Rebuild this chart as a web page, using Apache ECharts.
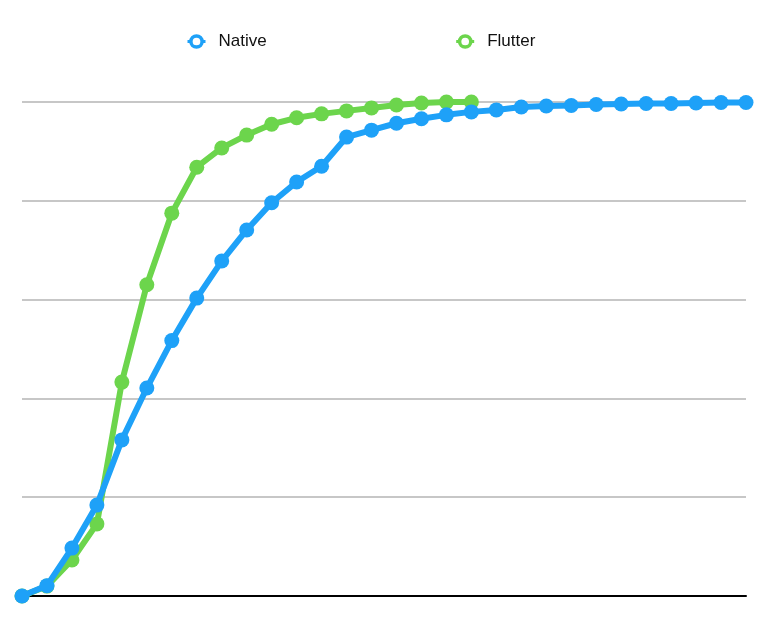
<!DOCTYPE html>
<html lang="en">
<head>
    <meta charset="UTF-8">
    <title>Native vs Flutter</title>
    <script src="https://cdn.jsdelivr.net/npm/echarts@6/dist/echarts.min.js"></script>
    <style>
        html, body { margin: 0; padding: 0; background: #fff; }
    </style>
</head>
<body>
    <div id="chart" style="width: 780px; height: 622px;"></div>
    <script type="text/javascript">
    // x positions are just sample indexes (no labels shown)
    const steps = Array.from({ length: 30 }, (_, i) => String(i + 1));

    const nativeValues = [0, 2.1, 9.7, 18.4, 31.6, 42.1, 51.7, 60.3, 67.8, 74.1,
        79.6, 83.8, 87.0, 92.9, 94.3, 95.7, 96.6, 97.4, 98.0, 98.4,
        99.0, 99.2, 99.3, 99.5, 99.6, 99.7, 99.7, 99.8, 99.9, 99.9];

    const flutterValues = [0, 2.0, 7.3, 14.6, 43.3, 63.0, 77.5, 86.8, 90.7, 93.3,
        95.5, 96.8, 97.6, 98.2, 98.8, 99.4, 99.8, 100, 100];

    const nativeColor = '#1ea1f8';
    const flutterColor = '#6cd54c';

    var chart = echarts.init(document.getElementById('chart'));

    // ring-shaped legend icon, white inside
    function legendItem(name, color) {
        return {
            name: name,
            itemStyle: { color: '#fff', borderColor: color, borderWidth: 3.5 },
            lineStyle: { color: color, width: 3 }
        };
    }

    var option = {
        animation: false,
        legend: {
            left: 186,
            top: 33,
            padding: 0,
            itemWidth: 18,
            itemHeight: 14,
            itemGap: 188,
            textStyle: {
                fontFamily: 'Liberation Sans',
                fontSize: 17,
                color: '#111',
                padding: [0, 0, 0, 8]
            },
            data: [legendItem('Native', nativeColor), legendItem('Flutter', flutterColor)]
        },
        grid: { left: 22, right: 34, top: 102, bottom: 26 },
        xAxis: {
            type: 'category',
            boundaryGap: false,
            data: steps,
            axisLine: { lineStyle: { color: '#000', width: 2 } },
            axisTick: { show: false },
            axisLabel: { show: false }
        },
        yAxis: {
            type: 'value',
            min: 0,
            max: 100,
            interval: 20,
            axisLine: { show: false },
            axisTick: { show: false },
            axisLabel: { show: false },
            splitLine: { lineStyle: { color: '#b4b4b4', width: 1.5 } }
        },
        series: [
            {
                name: 'Native',
                type: 'line',
                z: 3,
                data: nativeValues,
                color: nativeColor,
                symbol: 'circle',
                symbolSize: 15,
                lineStyle: { width: 6 },
                clip: false
            },
            {
                name: 'Flutter',
                type: 'line',
                z: 2,
                data: flutterValues,
                color: flutterColor,
                symbol: 'circle',
                symbolSize: 15,
                lineStyle: { width: 6 },
                clip: false
            }
        ]
    };
    chart.setOption(option);
    </script>
</body>
</html>
